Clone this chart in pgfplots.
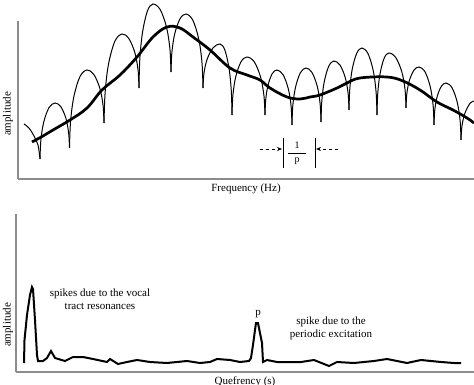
\documentclass[border=0pt]{standalone}
\usepackage{fontspec}
\setmainfont{Liberation Serif}
\usepackage{pgfplots}
\pgfplotsset{compat=1.18}
\usetikzlibrary{arrows.meta}
\begin{document}
\begin{tikzpicture}
\useasboundingbox (0pt,0pt) rectangle (474pt,-385pt);
\pgfplotsset{
  myaxis/.style={scale only axis, axis x line*=bottom, axis y line*=left,
    xtick=\empty, ytick=\empty, clip=false,
    axis line style={draw=black!45, line width=1.2pt},
    x axis line style={-}, y axis line style={-}},
  thinc/.style={black, line width=1pt, smooth, tension=0.55, no markers},
  thickc/.style={black, line width=2.7pt, smooth, tension=0.6, no markers},
}
\begin{axis}[myaxis, at={(18pt,-179pt)}, anchor=south west, width=456pt, height=158pt,
  xmin=18, xmax=474, ymin=-179, ymax=-21]
\addplot[thinc] coordinates {(24,-124) (29,-128) (34,-136) (38,-145) (40,-159)};
\addplot[thinc] coordinates {(40,-159) (40.9,-139.9) (43.75,-122.0) (49,-107.6) (55,-103) (60.8,-106.7) (65.9,-118.3) (68.6,-132.7) (69.5,-148)};
\addplot[thinc] coordinates {(69.5,-148) (70.55,-121.4) (73.9,-96.4) (80,-76.5) (87,-70) (93.8,-74.4) (99.75,-88.0) (103,-104.9) (104,-123)};
\addplot[thinc] coordinates {(104,-123) (105.1,-92.7) (108.5,-64.2) (114.8,-41.4) (122,-34) (128.8,-38.5) (134.75,-52.3) (138,-69.6) (139,-88)};
\addplot[thinc] coordinates {(139,-88) (139.8,-59.4) (142.5,-32.5) (147.4,-11.0) (153,-4) (160.2,-9.6) (166.5,-27.1) (169.9,-48.8) (171,-72)};
\addplot[thinc] coordinates {(171,-72) (171.9,-52.2) (174.75,-33.7) (180,-18.8) (186,-14) (192.8,-20.1) (198.75,-39.1) (202,-62.8) (203,-88)};
\addplot[thinc] coordinates {(203,-88) (204,-73) (207.25,-58.9) (213.2,-47.7) (220,-44) (224.8,-49.9) (229,-68.1) (231.3,-90.8) (232,-115)};
\addplot[thinc] coordinates {(232,-115) (232.9,-95.2) (235.75,-76.7) (241,-61.8) (247,-57) (254.2,-61.8) (260.5,-76.7) (263.9,-95.2) (265,-115)};
\addplot[thinc] coordinates {(265,-115) (265.7,-99.7) (268,-85.3) (272.2,-73.7) (277,-70) (283,-74.6) (288.25,-88.6) (291.1,-106.2) (292,-125)};
\addplot[thinc] coordinates {(292,-125) (292.8,-105.6) (295.5,-87.3) (300.4,-72.7) (306,-68) (312,-72.5) (317.25,-86.3) (320.1,-103.6) (321,-122)};
\addplot[thinc] coordinates {(321,-122) (321.8,-101.2) (324.25,-81.7) (328.8,-66.1) (334,-61) (340,-65.1) (345.25,-77.6) (348.1,-93.3) (349,-110)};
\addplot[thinc] coordinates {(349,-110) (349.8,-88.9) (352.25,-69) (356.8,-53.1) (362,-48) (368,-53.6) (373.25,-70.7) (376.1,-92.2) (377,-115)};
\addplot[thinc] coordinates {(377,-115) (377.7,-93.9) (380,-74) (384.2,-58.1) (389,-53) (395.8,-57.6) (401.75,-71.6) (405,-89.2) (406,-108)};
\addplot[thinc] coordinates {(406,-108) (406.8,-94) (409.25,-80.9) (413.8,-70.4) (419,-67) (425,-71.8) (430.25,-86.7) (433.1,-105.2) (434,-125)};
\addplot[thinc] coordinates {(434,-125) (434.7,-110.7) (437,-97.2) (441.2,-86.5) (446,-83) (452,-87.7) (457.25,-102.3) (460.1,-120.6) (461,-140)};
\addplot[thinc] coordinates {(461,-140) (461.9,-126.4) (464.75,-113.6) (470,-103.3) (474,-101)};
\addplot[thickc] coordinates {(32,-142) (43,-136) (53,-130) (70,-120) (87,-108) (102,-90) (120,-75) (137,-57) (153,-37) (167,-27) (180,-28) (193,-37) (210,-50) (230,-68) (247,-75) (260,-80) (270,-88) (287,-97) (300,-99) (310,-97) (320,-95) (337,-88) (347,-83) (360,-78) (387,-77) (403,-81) (420,-90) (437,-102) (453,-110) (467,-118) (474,-123)};
% 1/p annotation
\draw[black, line width=0.9pt] (axis cs:283,-138) -- (axis cs:283,-168);
\draw[black, line width=0.9pt] (axis cs:315,-138) -- (axis cs:315,-168);
\draw[black, line width=0.7pt, dashed, -{Stealth[length=5pt,width=4pt]}] (axis cs:260,-149) -- (axis cs:282,-149);
\draw[black, line width=0.7pt, dashed, -{Stealth[length=5pt,width=4pt]}] (axis cs:338,-149) -- (axis cs:316,-149);
\draw[black, line width=0.9pt] (axis cs:288,-153) -- (axis cs:306,-153);
\node[font=\fontsize{10}{12}\selectfont] at (axis cs:297,-145) {1};
\node[font=\fontsize{10}{12}\selectfont] at (axis cs:297,-161) {p};
\end{axis}

\begin{axis}[myaxis, at={(16pt,-372pt)}, anchor=south west, width=458pt, height=158pt,
  xmin=16, xmax=474, ymin=-372, ymax=-214]
\addplot[black, line width=2pt, no markers] coordinates {(24,-363) (24.5,-340) (27,-315) (30,-295) (32,-287) (33,-289) (35,-320) (37,-355) (38,-361) (43,-361) (47,-358) (51,-351) (55,-358) (65,-361) (73,-357) (83,-357) (93,-359) (107,-362) (110,-359) (118,-364) (127,-362) (137,-360) (150,-362) (167,-363) (187,-361) (200,-363) (210,-362) (217,-359) (230,-360) (240,-362) (249,-361) (251,-358) (253,-345) (255,-330) (256,-323) (258,-323) (260,-333) (262,-343) (263,-362) (267,-360) (277,-362) (301,-362) (314,-360) (329,-366) (337,-362) (354,-363) (374,-361) (387,-359) (407,-363) (421,-360) (441,-362) (454,-363) (461,-363)};
\end{axis}

\begin{scope}[font=\fontsize{11}{13}\selectfont]
\node[anchor=base] at (246pt,-192pt) {Frequency (Hz)};
\node[anchor=base] at (245pt,-384pt) {Quefrency (s)};
\node[rotate=90] at (8pt,-114pt) {amplitude};
\node[rotate=90] at (8pt,-325pt) {amplitude};
\node[align=center, inner sep=0pt] at (100pt,-299pt) {spikes due to the vocal\\tract resonances};
\node[align=center, inner sep=0pt] at (331pt,-328pt) {spike due to the\\periodic excitation};
\node[anchor=base] at (258pt,-315pt) {p};
\end{scope}
\end{tikzpicture}
\end{document}
